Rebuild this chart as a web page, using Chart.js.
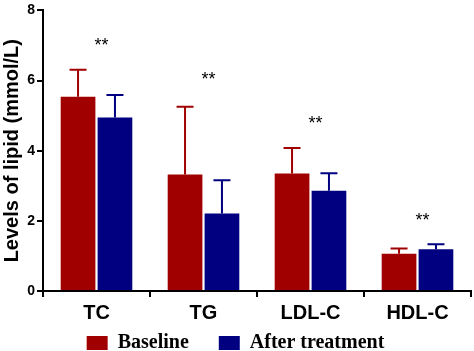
<!DOCTYPE html>
<html>
<head>
<meta charset="utf-8">
<script src="https://cdn.jsdelivr.net/npm/chart.js@4/dist/chart.umd.min.js"></script>
<style>
  html, body { margin: 0; padding: 0; background: #fff; }
  #wrap { width: 474px; height: 351px; }
</style>
</head>
<body>
<div id="wrap"><canvas id="lipidChart"></canvas></div>
<script>
// Data (mmol/L)
const categories = ['TC', 'TG', 'LDL-C', 'HDL-C'];
const baseline = [5.54, 3.32, 3.35, 1.06];
const baselineSD = [0.77, 1.93, 0.73, 0.15];
const afterTreatment = [4.95, 2.21, 2.86, 1.19];
const afterSD = [0.64, 0.95, 0.50, 0.14];
const yTicks = [0, 2, 4, 6, 8];
// "**" markers placed at these levels
const starLevels = [6.97, 6.02, 4.77, 2.0];

const RED = '#a00000';
const BLUE = '#000080';

// Draw upper error bars (mean + SD) on each bar
const errorBars = {
  id: 'errorBars',
  afterDatasetsDraw(chart) {
    const ctx = chart.ctx;
    const yScale = chart.scales.y;
    const sds = [baselineSD, afterSD];
    chart.data.datasets.forEach((ds, i) => {
      const meta = chart.getDatasetMeta(i);
      ctx.save();
      ctx.strokeStyle = ds.backgroundColor;
      ctx.lineWidth = 2;
      meta.data.forEach((bar, j) => {
        const top = yScale.getPixelForValue(ds.data[j] + sds[i][j]);
        ctx.beginPath();
        ctx.moveTo(bar.x, bar.y);
        ctx.lineTo(bar.x, top);
        ctx.moveTo(bar.x - 8.5, top);
        ctx.lineTo(bar.x + 8.5, top);
        ctx.stroke();
      });
      ctx.restore();
    });
  }
};

// Significance stars above each group
const starMarks = {
  id: 'starMarks',
  afterDatasetsDraw(chart) {
    const ctx = chart.ctx;
    const xScale = chart.scales.x;
    const yScale = chart.scales.y;
    ctx.save();
    ctx.fillStyle = '#000';
    ctx.font = '18px "Liberation Sans", Arial, sans-serif';
    ctx.textAlign = 'center';
    ctx.textBaseline = 'middle';
    categories.forEach((c, i) => {
      ctx.fillText('**', xScale.getPixelForValue(i) + 5, yScale.getPixelForValue(starLevels[i]));
    });
    ctx.restore();
  }
};

// Legend: wide gaps between items but a short box, tucked under the axis labels
const compactLegend = {
  id: 'compactLegend',
  afterInit(chart) {
    const legend = chart.legend;
    if (!legend) return;
    const origFit = legend.fit.bind(legend);
    legend.fit = function() {
      origFit();
      this.height = 30;
    };
  },
  afterLayout(chart) {
    const legend = chart.legend;
    if (!legend) return;
    legend.top = legend.bottom - 48;
  }
};

const ctx = document.getElementById('lipidChart').getContext('2d');
new Chart(ctx, {
  type: 'bar',
  data: {
    labels: categories,
    datasets: [
      {
        label: 'Baseline',
        data: baseline,
        backgroundColor: RED,
        borderWidth: 0,
        categoryPercentage: 0.69,
        barPercentage: 0.94
      },
      {
        label: 'After treatment',
        data: afterTreatment,
        backgroundColor: BLUE,
        borderWidth: 0,
        categoryPercentage: 0.69,
        barPercentage: 0.94
      }
    ]
  },
  options: {
    responsive: true,
    maintainAspectRatio: false,
    animation: false,
    layout: { padding: { top: 8, right: 3, left: 0, bottom: 0 } },
    plugins: {
      legend: {
        position: 'bottom',
        labels: {
          boxWidth: 21,
          boxHeight: 14,
          padding: 30,
          color: '#000',
          font: { family: '"Liberation Serif", "Times New Roman", serif', size: 20, weight: 'bold' }
        }
      },
      tooltip: { enabled: false }
    },
    scales: {
      x: {
        grid: { display: true, drawOnChartArea: false, color: '#000', lineWidth: 2, tickLength: 6 },
        border: { color: '#000', width: 2 },
        ticks: {
          color: '#000',
          padding: 4,
          autoSkip: false,
          maxRotation: 0,
          font: { family: '"Liberation Sans", Arial, sans-serif', size: 20, weight: 'bold' }
        },
        afterFit(scale) { scale.height = 30; }
      },
      y: {
        min: 0,
        max: 8,
        afterBuildTicks(scale) { scale.ticks = yTicks.map(v => ({ value: v })); },
        grid: { display: true, drawOnChartArea: false, color: '#000', lineWidth: 2, tickLength: 6 },
        border: { color: '#000', width: 2 },
        ticks: {
          color: '#000',
          padding: 2,
          font: { family: '"Liberation Sans", Arial, sans-serif', size: 14, weight: 'bold' }
        },
        title: {
          display: true,
          text: 'Levels of lipid (mmol/L)',
          color: '#000',
          padding: 0,
          font: { family: '"Liberation Sans", Arial, sans-serif', size: 20, weight: 'bold' }
        },
        afterFit(scale) { scale.width = 43; }
      }
    }
  },
  plugins: [errorBars, starMarks, compactLegend]
});
</script>
</body>
</html>
